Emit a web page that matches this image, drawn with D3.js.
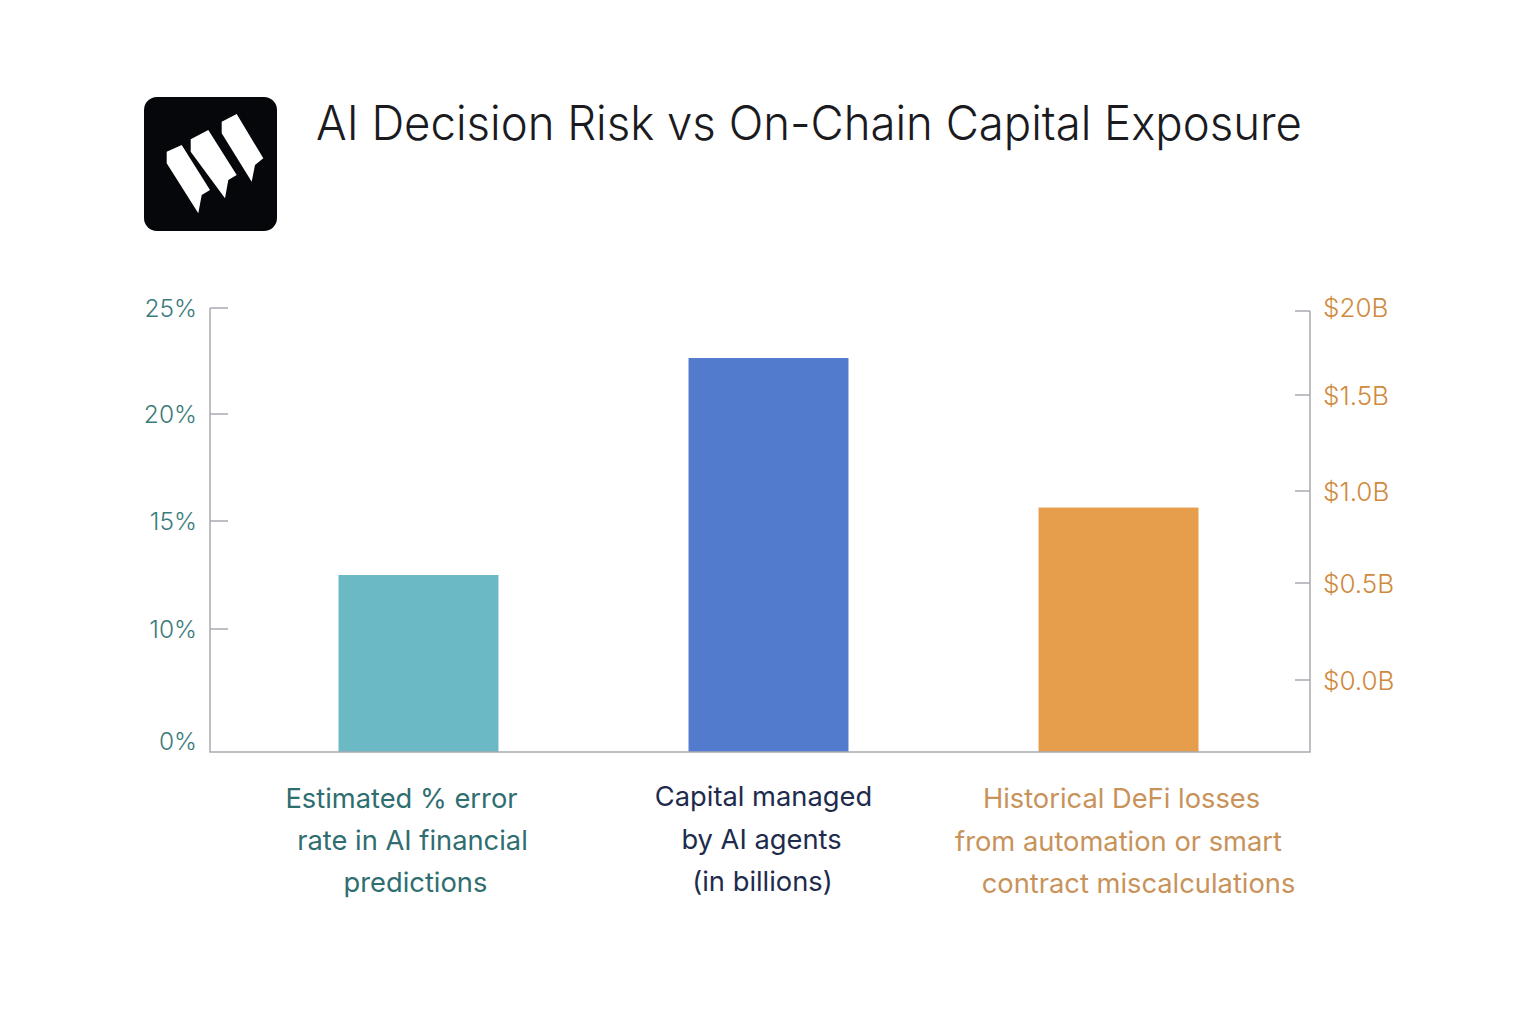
<!DOCTYPE html>
<html>
<head>
<meta charset="utf-8">
<script src="https://cdn.jsdelivr.net/npm/d3@7/dist/d3.min.js"></script>
<style>
  html, body { margin: 0; padding: 0; background: #ffffff; }
  svg { display: block; }
  text { font-family: Inter, "Open Sans", "Noto Sans", sans-serif; font-weight: 300; }
  text.cat { font-weight: 400; }
</style>
</head>
<body>
<svg id="chart" width="1536" height="1024"></svg>
<script>
// ---- data ----
const title = "AI Decision Risk vs On-Chain Capital Exposure";
const categories = ["error", "capital", "losses"];
const categoryLabels = [
  ["Estimated % error", "rate in AI financial", "predictions"],
  ["Capital managed", "by AI agents", "(in billions)"],
  ["Historical DeFi losses", "from automation or smart", "contract miscalculations"]
];
const values = [12.5, 1.72, 0.91];          // % error, $B managed, $B losses
const valueAxis = ["left", "right", "right"]; // which axis each bar reads from
const leftTicks = [0, 10, 15, 20, 25];
const leftTickLabels = ["0%", "10%", "15%", "20%", "25%"];
const rightTicks = [0, 0.5, 1.0, 1.5, 2.0];
const rightTickLabels = ["$0.0B", "$0.5B", "$1.0B", "$1.5B", "$20B"];
const barColors = ["#6bb9c4", "#527bce", "#e69d4c"];
const labelColors = ["#2f6e70", "#1e2b4d", "#c8935a"];

// ---- layout ----
const svg = d3.select("#chart");
const X0 = 210, X1 = 1310, YTOP = 308, YBASE = 752;

// title + logo
svg.append("text")
  .attr("x", 316).attr("y", 140)
  .attr("font-size", 48)
  .attr("fill", "#1b1b1f")
  .attr("textLength", 986).attr("lengthAdjust", "spacingAndGlyphs")
  .text(title);

const logo = svg.append("g");
logo.append("rect").attr("x", 144).attr("y", 97).attr("width", 133).attr("height", 134)
  .attr("rx", 13).attr("fill", "#06070a");
const ribbons = [
  [[166.7,151.7],[181.7,145],[210,190],[201.7,195],[198.3,213.3],[166.7,163.3]],
  [[190.7,139.3],[208.3,130],[236.7,175],[228.3,180],[225,198.3],[190.7,151.7]],
  [[221.7,121.7],[236.7,114],[263.3,158.3],[255,165],[251.7,181.7],[221.7,133.3]]
];
logo.selectAll("path.rib").data(ribbons).join("path")
  .attr("d", d => d3.line()(d) + "Z").attr("fill", "#ffffff");

// scales (piecewise, as drawn in the reference)
const yLeft = d3.scaleLinear().domain(leftTicks).range([752, 629, 521, 414, 308]);
const yRight = d3.scaleLinear().domain(rightTicks).range([680, 583, 491, 395, 311]);
const x = d3.scaleBand().domain(categories).range([219.5, 1317.5])
  .paddingInner(0.543).paddingOuter(0.34);

// bars
svg.selectAll("rect.bar").data(categories).join("rect")
  .attr("class", "bar")
  .attr("x", d => x(d))
  .attr("width", x.bandwidth())
  .attr("y", (d, i) => (valueAxis[i] === "left" ? yLeft : yRight)(values[i]))
  .attr("height", (d, i) => YBASE - (valueAxis[i] === "left" ? yLeft : yRight)(values[i]))
  .attr("fill", (d, i) => barColors[i]);

// axes lines
const axisColor = "#a7aab1";
const ax = svg.append("g").attr("stroke", axisColor).attr("stroke-width", 1.5).attr("fill", "none");
ax.append("path").attr("d", `M${X0},${YTOP}V${YBASE}H${X1}V${yRight(2.0)}`);

// left ticks
const lt = svg.append("g");
leftTicks.forEach((v, i) => {
  const y = yLeft(v);
  if (v !== 0) {
    lt.append("line").attr("x1", X0).attr("x2", X0 + 18).attr("y1", y).attr("y2", y)
      .attr("stroke", axisColor).attr("stroke-width", 1.5);
  }
  lt.append("text").attr("x", 197).attr("y", Math.min(y, YBASE - 11))
    .attr("text-anchor", "end").attr("dominant-baseline", "central")
    .attr("font-size", 24.5).attr("fill", "#3c7b7c").text(leftTickLabels[i]);
});

// right ticks
const rt = svg.append("g");
rightTicks.forEach((v, i) => {
  const y = yRight(v);
  rt.append("line").attr("x1", X1 - 15).attr("x2", X1).attr("y1", y).attr("y2", y)
    .attr("stroke", axisColor).attr("stroke-width", 1.5);
  rt.append("text").attr("x", 1323).attr("y", v === 2.0 ? y - 4 : y)
    .attr("text-anchor", "start").attr("dominant-baseline", "central")
    .attr("font-size", 26).attr("fill", "#d08a3d").text(rightTickLabels[i]);
});

// category labels
const lineOffsets = [[-17, -6, -3], [-5, -7, -6], [3, 0, 20]];
const lineY = [[798, 840, 882], [796, 839, 881], [798, 841, 883]];
categories.forEach((c, i) => {
  const cx = x(c) + x.bandwidth() / 2;
  categoryLabels[i].forEach((ln, j) => {
    svg.append("text").attr("class", "cat")
      .attr("x", cx + lineOffsets[i][j]).attr("y", lineY[i][j])
      .attr("text-anchor", "middle").attr("dominant-baseline", "central")
      .attr("font-size", 27.3).attr("fill", labelColors[i])
      .text(ln);
  });
});
</script>
</body>
</html>
